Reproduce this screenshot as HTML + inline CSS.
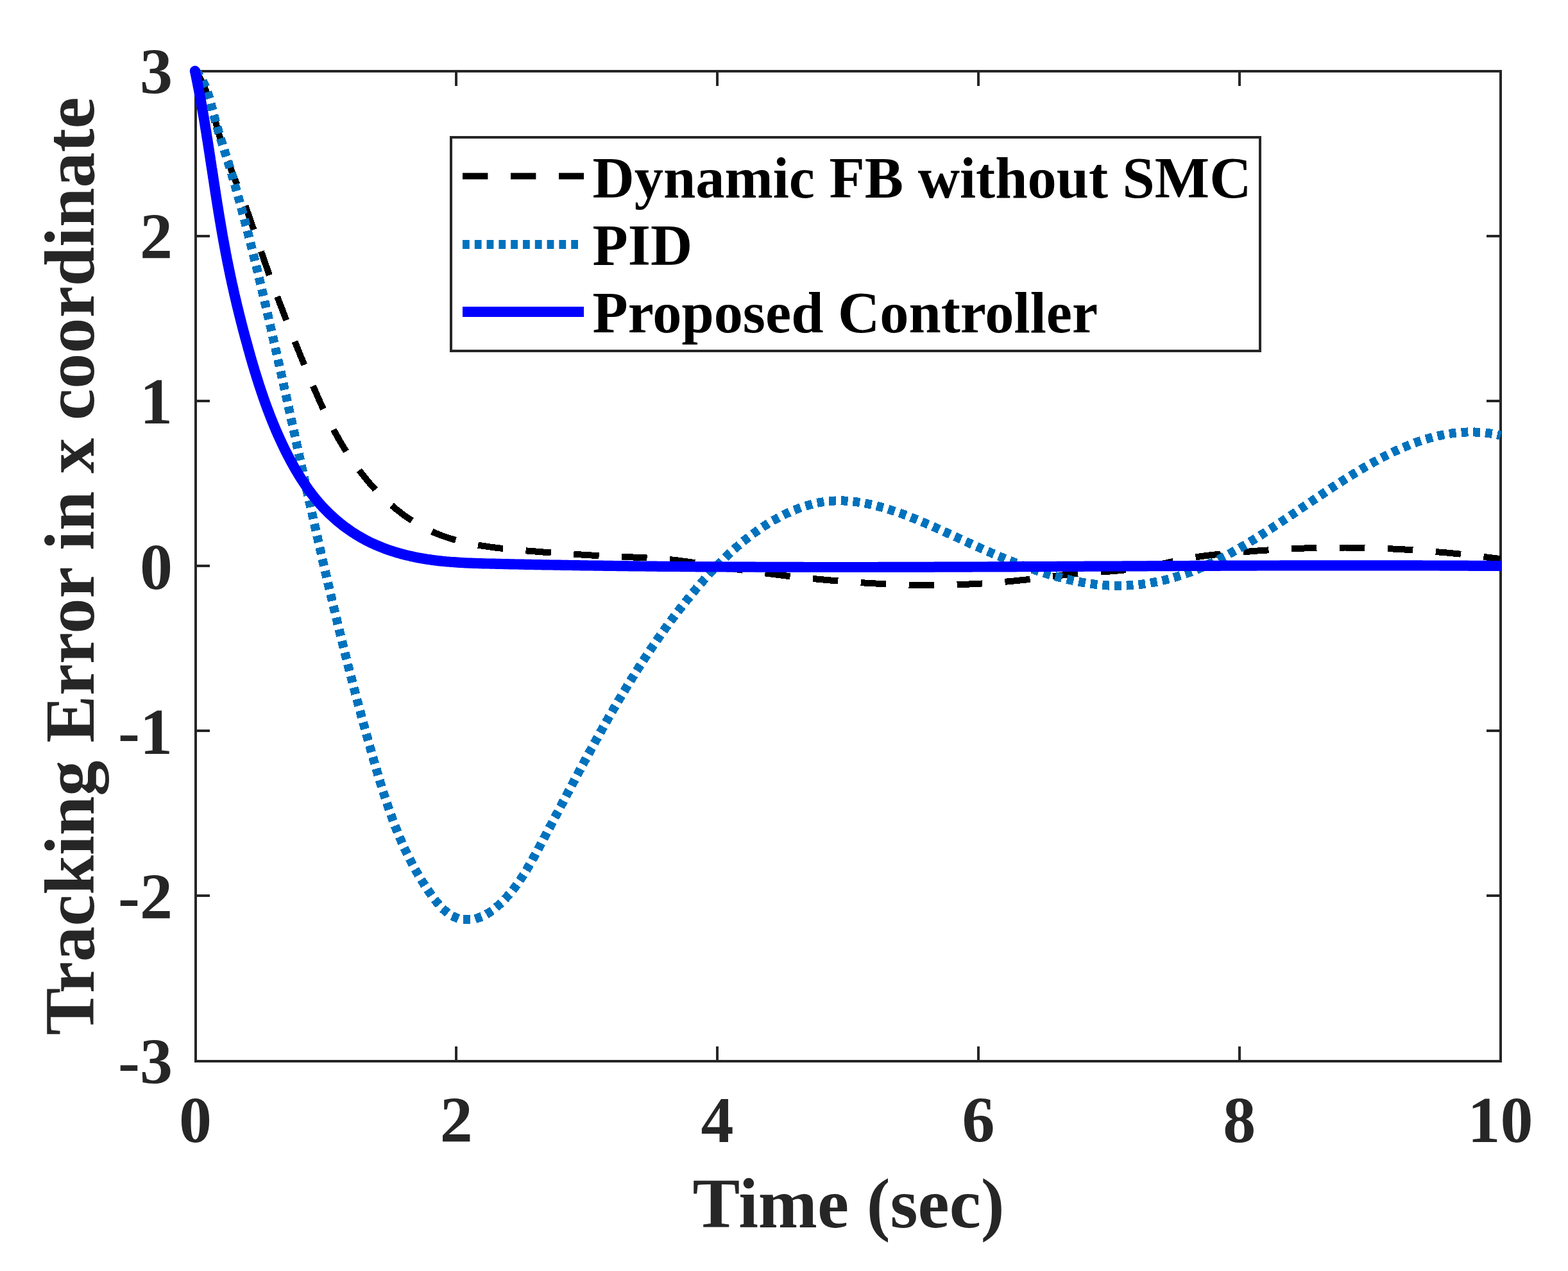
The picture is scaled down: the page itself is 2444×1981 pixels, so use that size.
<!DOCTYPE html>
<html><head><meta charset="utf-8"><title>Tracking Error in x coordinate</title>
<style>
html,body{margin:0;padding:0;background:#fff;}
body{width:2444px;height:1981px;overflow:hidden;}
svg{display:block;}
text{font-family:"Liberation Serif","Times New Roman",serif;font-weight:bold;}
</style></head><body>
<svg width="2444" height="1981" viewBox="0 0 2444 1981">
<rect x="0" y="0" width="2444" height="1981" fill="#fff"/>
<defs><clipPath id="ax"><rect x="290" y="95" width="2051" height="1561"/></clipPath></defs>

<g fill="#262626">
<rect x="303" y="109" width="2038" height="4"/>
<rect x="303" y="1652" width="2038" height="4"/>
<rect x="303" y="109" width="4" height="1547"/>
<rect x="2337" y="109" width="4" height="1547"/>
<rect x="709" y="109" width="4" height="25"/><rect x="709" y="1631" width="4" height="25"/><rect x="1116" y="109" width="4" height="25"/><rect x="1116" y="1631" width="4" height="25"/><rect x="1523" y="109" width="4" height="25"/><rect x="1523" y="1631" width="4" height="25"/><rect x="1930" y="109" width="4" height="25"/><rect x="1930" y="1631" width="4" height="25"/><rect x="303" y="366" width="24" height="4"/><rect x="2317" y="366" width="24" height="4"/><rect x="303" y="623" width="24" height="4"/><rect x="2317" y="623" width="24" height="4"/><rect x="303" y="880" width="24" height="4"/><rect x="2317" y="880" width="24" height="4"/><rect x="303" y="1137" width="24" height="4"/><rect x="2317" y="1137" width="24" height="4"/><rect x="303" y="1394" width="24" height="4"/><rect x="2317" y="1394" width="24" height="4"/>
</g>
<g clip-path="url(#ax)" fill="none" shape-rendering="crispEdges">
<path d="M304.7 110.4 L306.4 112.9 L308.0 115.5 L309.6 118.0 L311.1 120.6 L312.6 123.3 L314.0 125.9 L315.3 128.6 L316.6 131.3 L317.9 134.0 L319.1 136.7 L320.2 139.4 L321.3 142.2 L322.4 145.0 L323.5 147.8 L324.5 150.6 L325.4 153.4 L326.4 156.2 L327.3 159.1 L328.2 161.9 L329.1 164.8 L329.9 167.7 L330.8 170.6 L331.6 173.5 L332.4 176.3 L333.2 179.2 L334.0 182.2 L334.7 185.1 L335.5 188.0 L336.3 190.9 L337.1 193.8 L337.9 196.7 L338.7 199.6 L339.4 202.5 L340.3 205.4 L341.1 208.3 L341.9 211.2 L342.8 214.1 L343.6 217.0 L344.5 219.8 L345.4 222.7 L346.4 225.5 L347.3 228.4 L348.2 231.2 L349.2 234.1 L350.2 236.9 L351.2 239.8 L352.2 242.6 L353.2 245.4 L354.2 248.2 L355.2 251.0 L356.3 253.8 L357.3 256.6 L358.4 259.5 L359.5 262.3 L360.5 265.0 L361.6 267.8 L362.7 270.6 L363.8 273.4 L364.9 276.2 L366.0 279.0 L367.1 281.8 L368.2 284.6 L369.3 287.3 L370.4 290.1 L371.5 292.9 L372.6 295.7 L373.7 298.5 L374.8 301.3 L375.9 304.0 L377.0 306.8 L378.1 309.6 L379.2 312.4 L380.2 315.2 L381.3 318.0 L382.4 320.8 L383.4 323.6 L384.4 326.4 L385.4 329.2 L386.5 332.0 L387.5 334.8 L388.4 337.7 L389.4 340.5 L390.4 343.3 L391.4 346.1 L392.4 349.0 L393.3 351.8 L394.3 354.6 L395.3 357.5 L396.2 360.3 L397.2 363.1 L398.2 365.9 L399.1 368.8 L400.1 371.6 L401.1 374.4 L402.0 377.3 L403.0 380.1 L404.0 382.9 L404.9 385.8 L405.9 388.6 L406.9 391.4 L407.8 394.3 L408.8 397.1 L409.8 399.9 L410.8 402.8 L411.7 405.6 L412.7 408.4 L413.7 411.2 L414.7 414.1 L415.7 416.9 L416.7 419.7 L417.7 422.6 L418.7 425.4 L419.7 428.2 L420.7 431.0 L421.7 433.9 L422.8 436.7 L423.8 439.5 L424.8 442.3 L425.8 445.1 L426.9 448.0 L427.9 450.8 L429.0 453.6 L430.0 456.4 L431.1 459.2 L432.1 462.0 L433.2 464.8 L434.2 467.7 L435.3 470.5 L436.4 473.3 L437.4 476.1 L438.5 478.9 L439.6 481.7 L440.7 484.5 L441.8 487.3 L442.8 490.1 L443.9 492.9 L445.0 495.7 L446.1 498.5 L447.2 501.3 L448.3 504.1 L449.4 506.9 L450.5 509.7 L451.6 512.5 L452.7 515.3 L453.8 518.1 L454.9 520.9 L456.1 523.7 L457.2 526.5 L458.3 529.3 L459.4 532.0 L460.5 534.8 L461.7 537.6 L462.8 540.4 L463.9 543.2 L465.0 546.0 L466.2 548.7 L467.3 551.5 L468.4 554.3 L469.5 557.1 L470.7 559.9 L471.8 562.6 L472.9 565.4 L474.1 568.2 L475.2 570.9 L476.4 573.7 L477.5 576.5 L478.6 579.3 L479.8 582.0 L480.9 584.8 L482.1 587.5 L483.2 590.3 L484.4 593.1 L485.5 595.8 L486.7 598.6 L487.8 601.3 L489.0 604.1 L490.2 606.8 L491.4 609.5 L492.6 612.3 L493.7 615.0 L494.9 617.7 L496.2 620.5 L497.4 623.2 L498.6 625.9 L499.8 628.6 L501.1 631.3 L502.3 634.1 L503.6 636.8 L504.8 639.5 L506.1 642.2 L507.4 644.8 L508.7 647.5 L510.0 650.2 L511.3 652.9 L512.6 655.6 L514.0 658.2 L515.3 660.9 L516.7 663.5 L518.1 666.2 L519.5 668.8 L520.9 671.5 L522.3 674.1 L523.7 676.7 L525.2 679.3 L526.7 681.9 L528.1 684.5 L529.6 687.1 L531.1 689.7 L532.7 692.3 L534.2 694.9 L535.8 697.5 L537.4 700.0 L539.0 702.6 L540.6 705.1 L542.2 707.7 L543.9 710.2 L545.5 712.7 L547.2 715.2 L548.9 717.7 L550.7 720.2 L552.4 722.7 L554.2 725.2 L556.0 727.6 L557.8 730.1 L559.6 732.5 L561.4 734.9 L563.3 737.3 L565.1 739.7 L567.0 742.1 L568.9 744.5 L570.9 746.8 L572.8 749.1 L574.8 751.5 L576.7 753.8 L578.7 756.0 L580.8 758.3 L582.8 760.6 L584.8 762.8 L586.9 765.0 L589.0 767.2 L591.1 769.4 L593.2 771.5 L595.4 773.6 L597.5 775.7 L599.7 777.8 L601.9 779.9 L604.1 781.9 L606.3 784.0 L608.5 786.0 L610.8 787.9 L613.1 789.9 L615.4 791.8 L617.7 793.7 L620.0 795.6 L622.4 797.4 L624.7 799.3 L627.1 801.1 L629.5 802.8 L631.9 804.6 L634.3 806.3 L636.8 808.0 L639.2 809.6 L641.7 811.3 L644.2 812.9 L646.7 814.4 L649.3 816.0 L651.8 817.5 L654.4 818.9 L657.0 820.4 L659.6 821.8 L662.2 823.2 L664.8 824.5 L667.4 825.8 L670.1 827.1 L672.8 828.3 L675.5 829.5 L678.2 830.7 L680.9 831.8 L683.7 832.9 L686.4 834.0 L689.2 835.0 L692.0 836.0 L694.8 837.0 L697.6 837.9 L700.4 838.8 L703.3 839.7 L706.1 840.6 L709.0 841.4 L711.8 842.2 L714.7 843.0 L717.6 843.7 L720.5 844.4 L723.4 845.1 L726.4 845.8 L729.3 846.5 L732.2 847.1 L735.2 847.7 L738.1 848.3 L741.1 848.8 L744.1 849.4 L747.1 849.9 L750.0 850.4 L753.0 850.9 L756.0 851.3 L759.0 851.8 L762.0 852.2 L765.1 852.7 L768.1 853.1 L771.1 853.5 L774.1 853.8 L777.1 854.2 L780.1 854.5 L783.2 854.9 L786.2 855.2 L789.2 855.5 L792.3 855.8 L795.3 856.1 L798.3 856.4 L801.3 856.7 L804.4 857.0 L807.4 857.3 L810.4 857.5 L813.4 857.8 L816.5 858.1 L819.5 858.3 L822.5 858.6 L825.5 858.8 L828.5 859.1 L831.5 859.3 L834.5 859.5 L837.5 859.8 L840.5 860.0 L843.5 860.2 L846.5 860.5 L849.5 860.7 L852.5 860.9 L855.4 861.1 L858.4 861.4 L861.4 861.6 L864.4 861.8 L867.3 862.0 L870.3 862.2 L873.3 862.4 L876.3 862.6 L879.2 862.8 L882.2 863.0 L885.2 863.2 L888.1 863.4 L891.1 863.6 L894.1 863.8 L897.0 864.0 L900.0 864.2 L903.0 864.4 L905.9 864.5 L908.9 864.7 L911.9 864.9 L914.8 865.1 L917.8 865.2 L920.8 865.4 L923.7 865.6 L926.7 865.7 L929.7 865.9 L932.6 866.0 L935.6 866.2 L938.6 866.4 L941.6 866.5 L944.5 866.7 L947.5 866.8 L950.5 866.9 L953.5 867.1 L956.5 867.2 L959.5 867.4 L962.5 867.5 L965.5 867.6 L968.5 867.8 L971.5 867.9 L974.5 868.0 L977.5 868.1 L980.5 868.3 L983.5 868.4 L986.5 868.5 L989.5 868.6 L992.5 868.8 L995.6 868.9 L998.6 869.1 L1001.6 869.2 L1004.6 869.3 L1007.6 869.5 L1010.7 869.7 L1013.7 869.8 L1016.7 870.0 L1019.7 870.2 L1022.7 870.4 L1025.7 870.6 L1028.8 870.8 L1031.8 871.1 L1034.8 871.3 L1037.8 871.6 L1040.8 871.8 L1043.8 872.1 L1046.8 872.4 L1049.7 872.7 L1052.7 873.1 L1055.7 873.4 L1058.7 873.8 L1061.7 874.2 L1064.6 874.6 L1067.6 875.0 L1070.6 875.4 L1073.5 875.8 L1076.5 876.2 L1079.5 876.6 L1082.4 877.1 L1085.4 877.5 L1088.3 878.0 L1091.3 878.5 L1094.2 878.9 L1097.2 879.4 L1100.2 879.9 L1103.1 880.3 L1106.1 880.8 L1109.0 881.3 L1112.0 881.7 L1114.9 882.2 L1117.9 882.7 L1120.8 883.1 L1123.8 883.6 L1126.7 884.1 L1129.7 884.5 L1132.6 885.0 L1135.6 885.4 L1138.6 885.9 L1141.5 886.3 L1144.5 886.7 L1147.4 887.2 L1150.4 887.6 L1153.4 888.0 L1156.3 888.5 L1159.3 888.9 L1162.3 889.3 L1165.2 889.7 L1168.2 890.1 L1171.2 890.6 L1174.1 891.0 L1177.1 891.4 L1180.1 891.8 L1183.0 892.2 L1186.0 892.6 L1189.0 892.9 L1192.0 893.3 L1194.9 893.7 L1197.9 894.1 L1200.9 894.5 L1203.8 894.8 L1206.8 895.2 L1209.8 895.6 L1212.8 895.9 L1215.7 896.3 L1218.7 896.7 L1221.7 897.0 L1224.7 897.4 L1227.7 897.7 L1230.6 898.0 L1233.6 898.4 L1236.6 898.7 L1239.6 899.1 L1242.6 899.4 L1245.5 899.7 L1248.5 900.0 L1251.5 900.3 L1254.5 900.7 L1257.5 901.0 L1260.5 901.3 L1263.4 901.6 L1266.4 901.9 L1269.4 902.2 L1272.4 902.5 L1275.4 902.7 L1278.4 903.0 L1281.4 903.3 L1284.4 903.6 L1287.3 903.9 L1290.3 904.1 L1293.3 904.4 L1296.3 904.7 L1299.3 904.9 L1302.3 905.2 L1305.3 905.4 L1308.3 905.7 L1311.3 905.9 L1314.3 906.1 L1317.2 906.4 L1320.2 906.6 L1323.2 906.8 L1326.2 907.1 L1329.2 907.3 L1332.2 907.5 L1335.2 907.7 L1338.2 907.9 L1341.2 908.1 L1344.2 908.3 L1347.2 908.5 L1350.2 908.7 L1353.2 908.9 L1356.2 909.0 L1359.2 909.2 L1362.2 909.4 L1365.2 909.5 L1368.2 909.7 L1371.2 909.9 L1374.2 910.0 L1377.1 910.1 L1380.1 910.3 L1383.1 910.4 L1386.1 910.5 L1389.1 910.7 L1392.1 910.8 L1395.1 910.9 L1398.1 911.0 L1401.1 911.1 L1404.1 911.2 L1407.1 911.3 L1410.1 911.4 L1413.1 911.4 L1416.1 911.5 L1419.1 911.6 L1422.1 911.6 L1425.1 911.7 L1428.1 911.7 L1431.1 911.8 L1434.1 911.8 L1437.1 911.8 L1440.1 911.9 L1443.1 911.9 L1446.1 911.9 L1449.1 911.9 L1452.1 911.9 L1455.1 911.9 L1458.1 911.9 L1461.1 911.8 L1464.1 911.8 L1467.1 911.8 L1470.1 911.7 L1473.1 911.7 L1476.1 911.6 L1479.1 911.6 L1482.1 911.5 L1485.1 911.4 L1488.1 911.3 L1491.1 911.2 L1494.1 911.1 L1497.1 911.0 L1500.1 910.9 L1503.1 910.8 L1506.1 910.7 L1509.1 910.6 L1512.1 910.4 L1515.1 910.3 L1518.1 910.1 L1521.0 910.0 L1524.0 909.8 L1527.0 909.6 L1530.0 909.5 L1533.0 909.3 L1536.0 909.1 L1539.0 908.9 L1542.0 908.7 L1545.0 908.5 L1548.0 908.3 L1551.0 908.0 L1554.0 907.8 L1557.0 907.6 L1559.9 907.3 L1562.9 907.1 L1565.9 906.8 L1568.9 906.6 L1571.9 906.3 L1574.9 906.0 L1577.9 905.7 L1580.9 905.4 L1583.8 905.1 L1586.8 904.8 L1589.8 904.5 L1592.8 904.2 L1595.8 903.9 L1598.8 903.6 L1601.7 903.2 L1604.7 902.9 L1607.7 902.5 L1610.7 902.2 L1613.7 901.8 L1616.6 901.4 L1619.6 901.1 L1622.6 900.7 L1625.6 900.3 L1628.5 899.9 L1631.5 899.6 L1634.5 899.2 L1637.5 898.8 L1640.4 898.4 L1643.4 898.1 L1646.4 897.7 L1649.4 897.3 L1652.3 897.0 L1655.3 896.6 L1658.3 896.3 L1661.3 895.9 L1664.3 895.6 L1667.2 895.3 L1670.2 895.0 L1673.2 894.7 L1676.2 894.4 L1679.2 894.1 L1682.2 893.8 L1685.2 893.6 L1688.2 893.3 L1691.2 893.1 L1694.1 892.9 L1697.1 892.7 L1700.1 892.5 L1703.1 892.3 L1706.1 892.1 L1709.1 891.9 L1712.1 891.7 L1715.1 891.5 L1718.1 891.3 L1721.1 891.1 L1724.1 890.9 L1727.1 890.7 L1730.1 890.5 L1733.1 890.3 L1736.1 890.0 L1739.1 889.8 L1742.0 889.5 L1745.0 889.2 L1748.0 888.9 L1751.0 888.6 L1754.0 888.3 L1756.9 887.9 L1759.9 887.6 L1762.9 887.2 L1765.9 886.8 L1768.8 886.3 L1771.8 885.9 L1774.8 885.4 L1777.7 885.0 L1780.7 884.5 L1783.6 884.0 L1786.6 883.4 L1789.5 882.9 L1792.5 882.4 L1795.4 881.8 L1798.4 881.3 L1801.3 880.7 L1804.3 880.1 L1807.2 879.5 L1810.2 878.9 L1813.1 878.3 L1816.1 877.7 L1819.0 877.1 L1821.9 876.5 L1824.9 875.9 L1827.8 875.3 L1830.8 874.7 L1833.7 874.1 L1836.6 873.5 L1839.6 872.9 L1842.5 872.3 L1845.4 871.7 L1848.4 871.1 L1851.3 870.6 L1854.3 870.0 L1857.2 869.5 L1860.1 869.0 L1863.1 868.5 L1866.0 868.0 L1869.0 867.6 L1871.9 867.1 L1874.9 866.7 L1877.9 866.3 L1880.8 865.9 L1883.8 865.6 L1886.8 865.2 L1889.7 864.9 L1892.7 864.6 L1895.7 864.3 L1898.6 863.9 L1901.6 863.6 L1904.6 863.3 L1907.6 863.0 L1910.6 862.8 L1913.5 862.5 L1916.5 862.2 L1919.5 861.9 L1922.5 861.6 L1925.5 861.4 L1928.5 861.1 L1931.4 860.8 L1934.4 860.6 L1937.4 860.3 L1940.4 860.1 L1943.4 859.8 L1946.4 859.6 L1949.4 859.3 L1952.4 859.1 L1955.4 858.9 L1958.4 858.6 L1961.3 858.4 L1964.3 858.2 L1967.3 858.0 L1970.3 857.8 L1973.3 857.6 L1976.3 857.4 L1979.3 857.2 L1982.3 857.0 L1985.3 856.8 L1988.3 856.6 L1991.3 856.4 L1994.3 856.3 L1997.3 856.1 L2000.3 855.9 L2003.3 855.8 L2006.3 855.6 L2009.3 855.5 L2012.3 855.3 L2015.3 855.2 L2018.3 855.1 L2021.3 854.9 L2024.3 854.8 L2027.3 854.7 L2030.3 854.6 L2033.3 854.5 L2036.3 854.4 L2039.4 854.3 L2042.4 854.2 L2045.4 854.1 L2048.4 854.0 L2051.4 854.0 L2054.4 853.9 L2057.4 853.8 L2060.4 853.8 L2063.4 853.7 L2066.4 853.7 L2069.4 853.7 L2072.4 853.6 L2075.4 853.6 L2078.4 853.6 L2081.4 853.5 L2084.4 853.5 L2087.4 853.5 L2090.4 853.5 L2093.4 853.5 L2096.4 853.5 L2099.4 853.6 L2102.3 853.6 L2105.3 853.6 L2108.3 853.6 L2111.3 853.7 L2114.3 853.7 L2117.3 853.8 L2120.3 853.8 L2123.3 853.9 L2126.3 853.9 L2129.3 854.0 L2132.3 854.1 L2135.3 854.2 L2138.3 854.3 L2141.3 854.4 L2144.3 854.4 L2147.3 854.5 L2150.3 854.7 L2153.3 854.8 L2156.3 854.9 L2159.3 855.0 L2162.3 855.1 L2165.2 855.3 L2168.2 855.4 L2171.2 855.5 L2174.2 855.7 L2177.2 855.8 L2180.2 856.0 L2183.2 856.2 L2186.2 856.3 L2189.2 856.5 L2192.2 856.7 L2195.2 856.9 L2198.2 857.1 L2201.1 857.2 L2204.1 857.4 L2207.1 857.6 L2210.1 857.9 L2213.1 858.1 L2216.1 858.3 L2219.1 858.5 L2222.1 858.7 L2225.1 859.0 L2228.1 859.2 L2231.0 859.4 L2234.0 859.7 L2237.0 859.9 L2240.0 860.2 L2243.0 860.5 L2246.0 860.7 L2249.0 861.0 L2251.9 861.3 L2254.9 861.5 L2257.9 861.8 L2260.9 862.1 L2263.9 862.4 L2266.9 862.7 L2269.9 863.0 L2272.8 863.3 L2275.8 863.6 L2278.8 864.0 L2281.8 864.3 L2284.8 864.6 L2287.8 864.9 L2290.8 865.3 L2293.7 865.6 L2296.7 866.0 L2299.7 866.3 L2302.7 866.7 L2305.7 867.0 L2308.7 867.4 L2311.6 867.7 L2314.6 868.1 L2317.6 868.5 L2320.6 868.9 L2323.6 869.3 L2326.5 869.6 L2329.5 870.0 L2332.5 870.4 L2335.5 870.8 L2338.5 871.2" stroke="#000" stroke-width="10" stroke-dasharray="39.4 35.6" stroke-dashoffset="0" stroke-linejoin="round"/>
<path d="M305.3 110.7 L311.7 119.3 M315.8 126.2 L320.4 135.9 M323.3 143.4 L326.6 153.7 M328.7 161.3 L331.4 171.8 M333.4 179.5 L336.2 190.0 M338.4 197.6 L341.5 208.0 M343.9 215.6 L347.1 225.9 M349.5 233.5 L352.8 243.8 M355.2 251.4 L358.3 261.7 M360.6 269.3 L363.7 279.7 M365.9 287.3 L368.8 297.7 M371.0 305.4 L373.9 315.8 M376.0 323.5 L378.8 333.9 M380.9 341.6 L383.6 352.0 M385.6 359.7 L388.3 370.2 M390.3 377.9 L392.9 388.4 M394.8 396.1 L397.4 406.6 M399.3 414.3 L401.9 424.8 M403.7 432.5 L406.2 443.0 M408.1 450.8 L410.6 461.3 M412.4 469.0 L414.8 479.6 M416.6 487.3 L419.1 497.8 M420.9 505.6 L423.3 516.1 M425.0 523.9 L427.4 534.4 M429.2 542.1 L431.6 552.7 M433.3 560.4 L435.7 571.0 M437.4 578.7 L439.8 589.3 M441.5 597.0 L443.8 607.6 M445.6 615.3 L447.9 625.9 M449.6 633.6 L451.9 644.2 M453.6 651.9 L456.0 662.5 M457.7 670.2 L460.0 680.8 M461.7 688.5 L464.0 699.1 M465.7 706.9 L468.1 717.4 M469.8 725.2 L472.1 735.7 M473.8 743.5 L476.1 754.0 M477.8 761.8 L480.2 772.3 M481.9 780.1 L484.3 790.6 M486.0 798.3 L488.3 808.9 M490.1 816.6 L492.5 827.2 M494.2 834.9 L496.6 845.4 M498.4 853.2 L500.8 863.7 M502.5 871.4 L505.0 882.0 M506.8 889.7 L509.2 900.2 M511.0 907.9 L513.5 918.5 M515.3 926.2 L517.8 936.7 M519.7 944.4 L522.2 954.9 M524.1 962.6 L526.6 973.1 M528.5 980.8 L531.1 991.3 M533.0 999.0 L535.6 1009.5 M537.5 1017.2 L540.2 1027.6 M542.1 1035.3 L544.8 1045.8 M546.8 1053.5 L549.5 1063.9 M551.5 1071.6 L554.3 1082.0 M556.3 1089.7 L559.1 1100.1 M561.1 1107.8 L563.9 1118.2 M566.0 1125.9 L568.9 1136.3 M571.0 1143.9 L573.9 1154.3 M576.1 1162.0 L579.0 1172.4 M581.2 1180.0 L584.2 1190.4 M586.4 1198.0 L589.4 1208.3 M591.7 1215.9 L594.8 1226.3 M597.2 1233.8 L600.5 1244.1 M603.0 1251.6 L606.5 1261.9 M609.1 1269.3 L612.8 1279.5 M615.6 1286.9 L619.6 1296.9 M622.6 1304.3 L626.9 1314.2 M630.1 1321.4 L634.8 1331.2 M638.3 1338.3 L643.2 1347.9 M647.0 1354.8 L652.4 1364.2 M656.4 1371.0 L662.2 1380.1 M666.6 1386.7 L672.7 1395.6 M677.4 1402.0 L684.3 1410.3 M689.7 1416.1 L697.9 1423.2 M704.5 1427.5 L714.4 1431.8 M722.1 1433.4 L732.9 1433.5 M740.7 1432.2 L750.9 1428.7 M758.0 1425.2 L767.1 1419.3 M773.3 1414.4 L781.3 1407.1 M786.9 1401.5 L794.1 1393.5 M799.2 1387.4 L805.7 1378.8 M810.2 1372.3 L816.2 1363.3 M820.3 1356.5 L825.8 1347.2 M829.7 1340.3 L834.8 1330.8 M838.6 1323.9 L843.7 1314.3 M847.4 1307.3 L852.4 1297.8 M856.1 1290.8 L861.2 1281.2 M864.8 1274.2 L869.9 1264.7 M873.5 1257.6 L878.6 1248.1 M882.2 1241.1 L887.3 1231.5 M891.0 1224.5 L896.0 1215.0 M899.7 1208.0 L904.8 1198.4 M908.5 1191.4 L913.6 1181.9 M917.4 1175.0 L922.5 1165.5 M926.3 1158.5 L931.5 1149.1 M935.4 1142.1 L940.7 1132.7 M944.5 1125.8 L949.9 1116.4 M953.8 1109.5 L959.2 1100.2 M963.2 1093.4 L968.7 1084.1 M972.8 1077.3 L978.4 1068.0 M982.5 1061.3 L988.2 1052.1 M992.4 1045.4 L998.3 1036.3 M1002.6 1029.7 L1008.5 1020.6 M1012.9 1014.0 L1018.9 1005.1 M1023.4 998.6 L1029.6 989.7 M1034.2 983.3 L1040.5 974.5 M1045.2 968.1 L1051.7 959.5 M1056.5 953.2 L1063.2 944.7 M1068.1 938.5 L1074.9 930.1 M1079.9 924.0 L1086.9 915.7 M1092.0 909.7 L1099.1 901.6 M1104.5 895.7 L1111.8 887.8 M1117.3 882.0 L1124.9 874.4 M1130.5 868.8 L1138.4 861.4 M1144.2 856.1 L1152.4 849.0 M1158.4 843.9 L1166.9 837.2 M1173.2 832.4 L1182.0 826.1 M1188.5 821.6 L1197.6 815.8 M1204.4 811.7 L1213.8 806.5 M1220.9 802.8 L1230.6 798.2 M1237.9 795.1 L1248.0 791.2 M1255.5 788.7 L1265.9 785.7 M1273.6 783.9 L1284.3 782.0 M1292.1 781.1 L1302.9 780.4 M1310.8 780.3 L1321.6 780.8 M1329.5 781.5 L1340.2 783.0 M1348.0 784.4 L1358.6 786.6 M1366.3 788.5 L1376.7 791.3 M1384.3 793.6 L1394.5 796.9 M1402.0 799.5 L1412.2 803.2 M1419.6 806.1 L1429.6 810.1 M1436.9 813.2 L1446.8 817.4 M1454.1 820.6 L1464.0 825.0 M1471.2 828.3 L1481.0 832.8 M1488.2 836.1 L1498.0 840.6 M1505.2 844.0 L1515.0 848.4 M1522.3 851.7 L1532.1 856.1 M1539.4 859.3 L1549.3 863.6 M1556.6 866.7 L1566.6 870.8 M1573.9 873.8 L1584.0 877.8 M1591.4 880.6 L1601.5 884.3 M1609.0 886.9 L1619.2 890.4 M1626.8 892.8 L1637.1 896.0 M1644.7 898.1 L1655.2 900.9 M1662.9 902.8 L1673.4 905.2 M1681.2 906.7 L1691.8 908.6 M1699.7 909.8 L1710.4 911.1 M1718.3 911.9 L1729.1 912.6 M1737.0 912.8 L1747.8 912.9 M1755.8 912.6 L1766.5 911.9 M1774.4 911.2 L1785.1 909.9 M1793.0 908.6 L1803.6 906.7 M1811.4 905.0 L1821.9 902.4 M1829.5 900.2 L1839.8 897.1 M1847.3 894.5 L1857.5 890.8 M1864.9 887.9 L1874.8 883.7 M1882.1 880.4 L1891.8 875.8 M1898.9 872.3 L1908.5 867.3 M1915.5 863.6 L1925.0 858.3 M1931.9 854.4 L1941.2 848.9 M1948.0 844.8 L1957.2 839.1 M1963.9 834.9 L1973.0 829.1 M1979.7 824.8 L1988.7 818.9 M1995.4 814.5 L2004.3 808.5 M2010.9 804.0 L2019.9 798.0 M2026.4 793.5 L2035.4 787.4 M2042.0 783.0 L2050.9 776.9 M2057.5 772.5 L2066.5 766.5 M2073.1 762.1 L2082.1 756.2 M2088.8 751.9 L2097.9 746.0 M2104.7 741.8 L2113.9 736.2 M2120.7 732.1 L2130.0 726.6 M2136.9 722.7 L2146.4 717.4 M2153.4 713.7 L2163.0 708.7 M2170.1 705.2 L2179.9 700.7 M2187.2 697.5 L2197.2 693.3 M2204.6 690.5 L2214.8 686.9 M2222.4 684.5 L2232.8 681.5 M2240.5 679.6 L2251.1 677.4 M2258.9 676.0 L2269.6 674.6 M2277.6 673.9 L2288.4 673.4 M2296.3 673.4 L2307.1 673.8 M2315.1 674.5 L2325.8 676.0 M2333.6 677.4 L2339.1 678.6" stroke="#0072BD" stroke-width="14"/>
<path shape-rendering="auto" d="M303.9 110.6 L304.6 113.6 L305.2 116.5 L305.8 119.4 L306.4 122.3 L307.0 125.3 L307.6 128.2 L308.1 131.1 L308.7 134.1 L309.3 137.0 L309.9 140.0 L310.4 142.9 L311.0 145.8 L311.5 148.8 L312.1 151.7 L312.6 154.7 L313.1 157.6 L313.7 160.6 L314.2 163.5 L314.7 166.5 L315.2 169.4 L315.8 172.4 L316.3 175.3 L316.8 178.3 L317.3 181.2 L317.8 184.2 L318.3 187.1 L318.8 190.1 L319.3 193.1 L319.7 196.0 L320.2 199.0 L320.7 201.9 L321.2 204.9 L321.7 207.9 L322.1 210.8 L322.6 213.8 L323.1 216.8 L323.6 219.7 L324.0 222.7 L324.5 225.6 L324.9 228.6 L325.4 231.6 L325.9 234.5 L326.3 237.5 L326.8 240.5 L327.2 243.4 L327.7 246.4 L328.1 249.4 L328.6 252.3 L329.0 255.3 L329.5 258.3 L329.9 261.3 L330.4 264.2 L330.9 267.2 L331.3 270.2 L331.8 273.1 L332.2 276.1 L332.7 279.1 L333.1 282.0 L333.6 285.0 L334.0 288.0 L334.5 290.9 L334.9 293.9 L335.4 296.9 L335.8 299.8 L336.3 302.8 L336.8 305.8 L337.2 308.7 L337.7 311.7 L338.2 314.6 L338.6 317.6 L339.1 320.6 L339.6 323.5 L340.1 326.5 L340.5 329.5 L341.0 332.4 L341.5 335.4 L342.0 338.3 L342.5 341.3 L343.0 344.3 L343.5 347.2 L344.0 350.2 L344.5 353.1 L345.0 356.1 L345.5 359.0 L346.0 362.0 L346.5 364.9 L347.0 367.9 L347.6 370.8 L348.1 373.8 L348.6 376.7 L349.2 379.7 L349.7 382.6 L350.3 385.5 L350.8 388.5 L351.4 391.4 L351.9 394.4 L352.5 397.3 L353.1 400.2 L353.6 403.2 L354.2 406.1 L354.8 409.1 L355.4 412.0 L356.0 414.9 L356.6 417.8 L357.2 420.8 L357.8 423.7 L358.4 426.6 L359.0 429.6 L359.6 432.5 L360.3 435.4 L360.9 438.3 L361.5 441.3 L362.2 444.2 L362.8 447.1 L363.5 450.0 L364.1 452.9 L364.8 455.8 L365.4 458.8 L366.1 461.7 L366.8 464.6 L367.5 467.5 L368.2 470.4 L368.8 473.3 L369.5 476.2 L370.2 479.1 L371.0 482.0 L371.7 485.0 L372.4 487.9 L373.1 490.8 L373.8 493.7 L374.6 496.6 L375.3 499.5 L376.0 502.4 L376.8 505.3 L377.5 508.2 L378.3 511.1 L379.0 514.0 L379.8 516.9 L380.6 519.7 L381.3 522.6 L382.1 525.5 L382.9 528.4 L383.7 531.3 L384.5 534.2 L385.3 537.1 L386.1 540.0 L386.8 542.9 L387.7 545.8 L388.5 548.7 L389.3 551.6 L390.1 554.4 L390.9 557.3 L391.7 560.2 L392.6 563.1 L393.4 566.0 L394.3 568.9 L395.1 571.7 L396.0 574.6 L396.8 577.5 L397.7 580.3 L398.6 583.2 L399.5 586.1 L400.4 589.0 L401.3 591.8 L402.2 594.7 L403.1 597.5 L404.0 600.4 L405.0 603.2 L405.9 606.1 L406.9 608.9 L407.8 611.8 L408.8 614.6 L409.8 617.5 L410.7 620.3 L411.7 623.1 L412.7 625.9 L413.7 628.8 L414.8 631.6 L415.8 634.4 L416.8 637.2 L417.9 640.0 L419.0 642.8 L420.0 645.6 L421.1 648.4 L422.2 651.2 L423.3 654.0 L424.4 656.8 L425.6 659.6 L426.7 662.4 L427.9 665.1 L429.0 667.9 L430.2 670.7 L431.4 673.4 L432.6 676.2 L433.8 678.9 L435.1 681.7 L436.3 684.4 L437.6 687.1 L438.8 689.8 L440.1 692.6 L441.4 695.3 L442.7 698.0 L444.0 700.7 L445.4 703.4 L446.7 706.1 L448.1 708.8 L449.5 711.4 L450.9 714.1 L452.3 716.8 L453.7 719.4 L455.2 722.1 L456.6 724.7 L458.1 727.4 L459.6 730.0 L461.1 732.6 L462.7 735.2 L464.2 737.8 L465.8 740.3 L467.4 742.9 L469.0 745.5 L470.6 748.0 L472.2 750.5 L473.9 753.0 L475.6 755.5 L477.3 758.0 L479.0 760.4 L480.7 762.9 L482.5 765.3 L484.3 767.7 L486.1 770.1 L487.9 772.5 L489.8 774.8 L491.7 777.1 L493.6 779.5 L495.5 781.7 L497.4 784.0 L499.4 786.2 L501.4 788.5 L503.4 790.7 L505.5 792.8 L507.6 795.0 L509.7 797.1 L511.8 799.2 L513.9 801.3 L516.1 803.3 L518.3 805.3 L520.5 807.3 L522.7 809.3 L525.0 811.3 L527.3 813.2 L529.6 815.1 L531.9 816.9 L534.3 818.8 L536.6 820.6 L539.0 822.3 L541.4 824.1 L543.9 825.8 L546.3 827.5 L548.8 829.2 L551.3 830.8 L553.8 832.4 L556.3 834.0 L558.9 835.5 L561.4 837.0 L564.0 838.5 L566.6 839.9 L569.3 841.4 L571.9 842.7 L574.6 844.1 L577.2 845.4 L579.9 846.7 L582.6 847.9 L585.4 849.2 L588.1 850.3 L590.9 851.5 L593.6 852.6 L596.4 853.7 L599.2 854.8 L602.0 855.8 L604.8 856.8 L607.7 857.8 L610.5 858.7 L613.4 859.7 L616.2 860.5 L619.1 861.4 L622.0 862.2 L624.9 863.1 L627.8 863.8 L630.7 864.6 L633.6 865.3 L636.5 866.0 L639.5 866.7 L642.4 867.3 L645.3 868.0 L648.3 868.6 L651.2 869.2 L654.2 869.7 L657.1 870.2 L660.1 870.7 L663.0 871.2 L666.0 871.7 L669.0 872.1 L671.9 872.6 L674.9 873.0 L677.9 873.4 L680.8 873.7 L683.8 874.1 L686.8 874.4 L689.8 874.7 L692.7 875.0 L695.7 875.3 L698.7 875.5 L701.7 875.8 L704.7 876.0 L707.7 876.2 L710.7 876.4 L713.7 876.6 L716.6 876.8 L719.6 877.0 L722.6 877.2 L725.6 877.3 L728.6 877.5 L731.6 877.6 L734.6 877.7 L737.6 877.8 L740.6 877.9 L743.6 878.0 L746.6 878.1 L749.6 878.2 L752.6 878.3 L755.6 878.4 L758.6 878.5 L761.6 878.5 L764.6 878.6 L767.6 878.7 L770.6 878.7 L773.6 878.8 L776.6 878.9 L779.7 878.9 L782.7 879.0 L785.7 879.1 L788.7 879.1 L791.7 879.2 L794.7 879.3 L797.7 879.3 L800.7 879.4 L803.7 879.5 L806.7 879.5 L809.7 879.6 L812.7 879.6 L815.7 879.7 L818.7 879.8 L821.7 879.8 L824.7 879.9 L827.7 879.9 L830.7 880.0 L833.7 880.1 L836.7 880.1 L839.7 880.2 L842.7 880.2 L845.7 880.3 L848.7 880.3 L851.7 880.4 L854.7 880.4 L857.7 880.5 L860.7 880.5 L863.7 880.6 L866.7 880.6 L869.7 880.7 L872.7 880.7 L875.7 880.8 L878.7 880.8 L881.7 880.9 L884.7 880.9 L887.7 881.0 L890.7 881.0 L893.7 881.1 L896.7 881.1 L899.7 881.2 L902.7 881.2 L905.7 881.3 L908.7 881.3 L911.7 881.4 L914.7 881.4 L917.7 881.5 L920.7 881.5 L923.7 881.5 L926.7 881.6 L929.7 881.6 L932.7 881.7 L935.7 881.7 L938.7 881.7 L941.8 881.8 L944.8 881.8 L947.8 881.9 L950.8 881.9 L953.8 881.9 L956.8 882.0 L959.8 882.0 L962.8 882.1 L965.8 882.1 L968.8 882.1 L971.8 882.2 L974.8 882.2 L977.8 882.2 L980.8 882.3 L983.8 882.3 L986.8 882.3 L989.8 882.4 L992.8 882.4 L995.8 882.4 L998.8 882.5 L1001.8 882.5 L1004.7 882.5 L1007.7 882.6 L1010.7 882.6 L1013.7 882.6 L1016.7 882.7 L1019.7 882.7 L1022.7 882.7 L1025.7 882.8 L1028.7 882.8 L1031.7 882.8 L1034.7 882.8 L1037.7 882.9 L1040.7 882.9 L1043.7 882.9 L1046.7 882.9 L1049.7 883.0 L1052.7 883.0 L1055.7 883.0 L1058.7 883.0 L1061.7 883.1 L1064.7 883.1 L1067.7 883.1 L1070.7 883.1 L1073.7 883.2 L1076.7 883.2 L1079.7 883.2 L1082.7 883.2 L1085.7 883.3 L1088.7 883.3 L1091.7 883.3 L1094.7 883.3 L1097.7 883.3 L1100.7 883.4 L1103.7 883.4 L1106.7 883.4 L1109.7 883.4 L1112.7 883.4 L1115.7 883.4 L1118.7 883.5 L1121.7 883.5 L1124.7 883.5 L1127.7 883.5 L1130.7 883.5 L1133.7 883.6 L1136.7 883.6 L1139.7 883.6 L1142.7 883.6 L1145.7 883.6 L1148.7 883.6 L1151.7 883.6 L1154.7 883.7 L1157.7 883.7 L1160.7 883.7 L1163.7 883.7 L1166.7 883.7 L1169.7 883.7 L1172.7 883.7 L1175.7 883.7 L1178.7 883.8 L1181.7 883.8 L1184.7 883.8 L1187.7 883.8 L1190.6 883.8 L1193.6 883.8 L1196.6 883.8 L1199.6 883.8 L1202.6 883.8 L1205.6 883.8 L1208.6 883.9 L1211.6 883.9 L1214.6 883.9 L1217.6 883.9 L1220.6 883.9 L1223.6 883.9 L1226.6 883.9 L1229.6 883.9 L1232.6 883.9 L1235.6 883.9 L1238.6 883.9 L1241.6 883.9 L1244.6 883.9 L1247.6 883.9 L1250.6 883.9 L1253.6 884.0 L1256.6 884.0 L1259.6 884.0 L1262.6 884.0 L1265.6 884.0 L1268.6 884.0 L1271.6 884.0 L1274.6 884.0 L1277.6 884.0 L1280.6 884.0 L1283.6 884.0 L1286.5 884.0 L1289.5 884.0 L1292.5 884.0 L1295.5 884.0 L1298.5 884.0 L1301.5 884.0 L1304.5 884.0 L1307.5 884.0 L1310.5 884.0 L1313.5 884.0 L1316.5 884.0 L1319.5 884.0 L1322.5 884.0 L1325.5 884.0 L1328.5 884.0 L1331.5 884.0 L1334.5 884.0 L1337.5 884.0 L1340.5 884.0 L1343.5 884.0 L1346.5 884.0 L1349.5 884.0 L1352.5 884.0 L1355.5 884.0 L1358.5 884.0 L1361.5 884.0 L1364.5 884.0 L1367.4 884.0 L1370.4 883.9 L1373.4 883.9 L1376.4 883.9 L1379.4 883.9 L1382.4 883.9 L1385.4 883.9 L1388.4 883.9 L1391.4 883.9 L1394.4 883.9 L1397.4 883.9 L1400.4 883.9 L1403.4 883.9 L1406.4 883.9 L1409.4 883.9 L1412.4 883.9 L1415.4 883.9 L1418.4 883.9 L1421.4 883.8 L1424.4 883.8 L1427.4 883.8 L1430.4 883.8 L1433.4 883.8 L1436.4 883.8 L1439.3 883.8 L1442.3 883.8 L1445.3 883.8 L1448.3 883.8 L1451.3 883.8 L1454.3 883.8 L1457.3 883.7 L1460.3 883.7 L1463.3 883.7 L1466.3 883.7 L1469.3 883.7 L1472.3 883.7 L1475.3 883.7 L1478.3 883.7 L1481.3 883.7 L1484.3 883.7 L1487.3 883.7 L1490.3 883.6 L1493.3 883.6 L1496.3 883.6 L1499.3 883.6 L1502.3 883.6 L1505.3 883.6 L1508.2 883.6 L1511.2 883.6 L1514.2 883.6 L1517.2 883.5 L1520.2 883.5 L1523.2 883.5 L1526.2 883.5 L1529.2 883.5 L1532.2 883.5 L1535.2 883.5 L1538.2 883.5 L1541.2 883.4 L1544.2 883.4 L1547.2 883.4 L1550.2 883.4 L1553.2 883.4 L1556.2 883.4 L1559.2 883.4 L1562.2 883.4 L1565.2 883.3 L1568.2 883.3 L1571.2 883.3 L1574.1 883.3 L1577.1 883.3 L1580.1 883.3 L1583.1 883.3 L1586.1 883.2 L1589.1 883.2 L1592.1 883.2 L1595.1 883.2 L1598.1 883.2 L1601.1 883.2 L1604.1 883.2 L1607.1 883.2 L1610.1 883.1 L1613.1 883.1 L1616.1 883.1 L1619.1 883.1 L1622.1 883.1 L1625.1 883.1 L1628.1 883.1 L1631.1 883.0 L1634.1 883.0 L1637.1 883.0 L1640.0 883.0 L1643.0 883.0 L1646.0 883.0 L1649.0 882.9 L1652.0 882.9 L1655.0 882.9 L1658.0 882.9 L1661.0 882.9 L1664.0 882.9 L1667.0 882.9 L1670.0 882.8 L1673.0 882.8 L1676.0 882.8 L1679.0 882.8 L1682.0 882.8 L1685.0 882.8 L1688.0 882.8 L1691.0 882.7 L1694.0 882.7 L1697.0 882.7 L1700.0 882.7 L1703.0 882.7 L1705.9 882.7 L1708.9 882.7 L1711.9 882.6 L1714.9 882.6 L1717.9 882.6 L1720.9 882.6 L1723.9 882.6 L1726.9 882.6 L1729.9 882.5 L1732.9 882.5 L1735.9 882.5 L1738.9 882.5 L1741.9 882.5 L1744.9 882.5 L1747.9 882.5 L1750.9 882.4 L1753.9 882.4 L1756.9 882.4 L1759.9 882.4 L1762.9 882.4 L1765.9 882.4 L1768.9 882.4 L1771.9 882.3 L1774.9 882.3 L1777.8 882.3 L1780.8 882.3 L1783.8 882.3 L1786.8 882.3 L1789.8 882.2 L1792.8 882.2 L1795.8 882.2 L1798.8 882.2 L1801.8 882.2 L1804.8 882.2 L1807.8 882.2 L1810.8 882.1 L1813.8 882.1 L1816.8 882.1 L1819.8 882.1 L1822.8 882.1 L1825.8 882.1 L1828.8 882.1 L1831.8 882.1 L1834.8 882.0 L1837.8 882.0 L1840.8 882.0 L1843.8 882.0 L1846.8 882.0 L1849.8 882.0 L1852.7 882.0 L1855.7 881.9 L1858.7 881.9 L1861.7 881.9 L1864.7 881.9 L1867.7 881.9 L1870.7 881.9 L1873.7 881.9 L1876.7 881.9 L1879.7 881.8 L1882.7 881.8 L1885.7 881.8 L1888.7 881.8 L1891.7 881.8 L1894.7 881.8 L1897.7 881.8 L1900.7 881.8 L1903.7 881.7 L1906.7 881.7 L1909.7 881.7 L1912.7 881.7 L1915.7 881.7 L1918.7 881.7 L1921.7 881.7 L1924.7 881.7 L1927.7 881.7 L1930.7 881.6 L1933.7 881.6 L1936.7 881.6 L1939.7 881.6 L1942.6 881.6 L1945.6 881.6 L1948.6 881.6 L1951.6 881.6 L1954.6 881.6 L1957.6 881.6 L1960.6 881.5 L1963.6 881.5 L1966.6 881.5 L1969.6 881.5 L1972.6 881.5 L1975.6 881.5 L1978.6 881.5 L1981.6 881.5 L1984.6 881.5 L1987.6 881.5 L1990.6 881.5 L1993.6 881.5 L1996.6 881.4 L1999.6 881.4 L2002.6 881.4 L2005.6 881.4 L2008.6 881.4 L2011.6 881.4 L2014.6 881.4 L2017.6 881.4 L2020.6 881.4 L2023.6 881.4 L2026.6 881.4 L2029.6 881.4 L2032.6 881.4 L2035.6 881.4 L2038.6 881.4 L2041.6 881.4 L2044.6 881.4 L2047.6 881.3 L2050.6 881.3 L2053.6 881.3 L2056.6 881.3 L2059.6 881.3 L2062.6 881.3 L2065.5 881.3 L2068.5 881.3 L2071.5 881.3 L2074.5 881.3 L2077.5 881.3 L2080.5 881.3 L2083.5 881.3 L2086.5 881.3 L2089.5 881.3 L2092.5 881.3 L2095.5 881.3 L2098.5 881.3 L2101.5 881.3 L2104.5 881.3 L2107.5 881.3 L2110.5 881.3 L2113.5 881.3 L2116.5 881.3 L2119.5 881.3 L2122.5 881.3 L2125.5 881.3 L2128.5 881.3 L2131.5 881.3 L2134.5 881.3 L2137.5 881.3 L2140.5 881.3 L2143.5 881.3 L2146.5 881.3 L2149.5 881.3 L2152.5 881.3 L2155.5 881.3 L2158.5 881.3 L2161.5 881.3 L2164.5 881.3 L2167.5 881.3 L2170.5 881.3 L2173.5 881.4 L2176.5 881.4 L2179.5 881.4 L2182.5 881.4 L2185.5 881.4 L2188.5 881.4 L2191.5 881.4 L2194.5 881.4 L2197.5 881.4 L2200.5 881.4 L2203.5 881.4 L2206.5 881.4 L2209.5 881.4 L2212.5 881.4 L2215.5 881.4 L2218.5 881.5 L2221.5 881.5 L2224.5 881.5 L2227.5 881.5 L2230.5 881.5 L2233.5 881.5 L2236.5 881.5 L2239.5 881.5 L2242.5 881.5 L2245.5 881.6 L2248.5 881.6 L2251.5 881.6 L2254.5 881.6 L2257.5 881.6 L2260.5 881.6 L2263.5 881.6 L2266.5 881.6 L2269.5 881.7 L2272.5 881.7 L2275.5 881.7 L2278.5 881.7 L2281.5 881.7 L2284.5 881.7 L2287.5 881.7 L2290.5 881.8 L2293.5 881.8 L2296.5 881.8 L2299.5 881.8 L2302.5 881.8 L2305.5 881.8 L2308.5 881.9 L2311.5 881.9 L2314.5 881.9 L2317.5 881.9 L2320.5 881.9 L2323.5 882.0 L2326.6 882.0 L2329.6 882.0 L2332.6 882.0 L2335.6 882.0 L2338.6 882.1" stroke="#0000FF" stroke-width="16.2" stroke-linecap="round" stroke-linejoin="round"/>
</g>
<g fill="#262626" font-size="102px"><text x="269.0" y="146.1" text-anchor="end">3</text><text x="269.0" y="403.3" text-anchor="end">2</text><text x="269.0" y="660.4" text-anchor="end">1</text><text x="269.0" y="917.6" text-anchor="end">0</text><text x="269.0" y="1174.8" text-anchor="end">-1</text><text x="269.0" y="1431.9" text-anchor="end">-2</text><text x="269.0" y="1689.1" text-anchor="end">-3</text><text x="304.5" y="1779.8" text-anchor="middle">0</text><text x="711.3" y="1779.8" text-anchor="middle">2</text><text x="1118.1" y="1779.8" text-anchor="middle">4</text><text x="1524.9" y="1779.8" text-anchor="middle">6</text><text x="1931.7" y="1779.8" text-anchor="middle">8</text><text x="2338.5" y="1779.8" text-anchor="middle">10</text></g>
<text x="1322.5" y="1912.8" text-anchor="middle" fill="#262626" font-size="110.6px">Time (sec)</text>
<text transform="translate(145.6 882.4) rotate(-90)" x="0" y="0" text-anchor="middle" fill="#262626" font-size="110.6px">Tracking Error in x coordinate</text>
<g>
<rect x="703" y="214" width="1261" height="333" fill="#fff" stroke="#262626" stroke-width="4"/>
<line x1="721" y1="274.5" x2="910" y2="274.5" stroke="#000" stroke-width="10" stroke-dasharray="39.4 35.6"/>
<line x1="721" y1="381" x2="909" y2="381" stroke="#0072BD" stroke-width="14" stroke-dasharray="10.8 8"/>
<line x1="721" y1="486" x2="910" y2="486" stroke="#0000FF" stroke-width="16.2"/>
<g fill="#000" font-size="90.4px">
<text x="923.5" y="307.6">Dynamic FB without SMC</text>
<text x="923.5" y="413.4">PID</text>
<text x="923.5" y="518.2">Proposed Controller</text>
</g>
</g>
</svg>
</body></html>
